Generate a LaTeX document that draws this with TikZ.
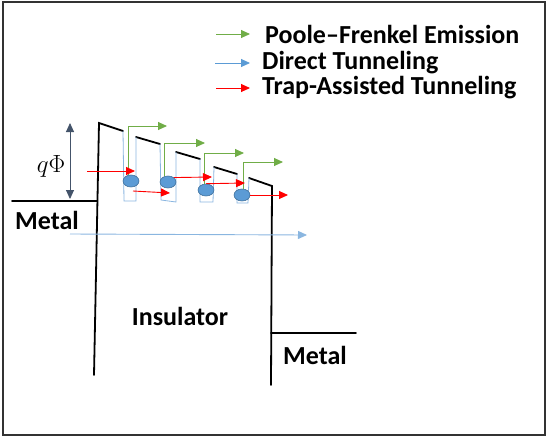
\documentclass[tikz,border=0pt]{standalone}
\usepackage{fontspec}
\setmainfont{Carlito}
\usetikzlibrary{arrows.meta, positioning, shapes.geometric}

\definecolor{pfgreen}{HTML}{70AD47}
\definecolor{dtblue}{HTML}{5B9BD5}
\definecolor{wellblue}{HTML}{8AB6E0}
\definecolor{trapedge}{HTML}{41719C}
\definecolor{slate}{HTML}{44546A}

\begin{document}
\begin{tikzpicture}[x=1pt, y=-1pt,
  tip/.style={-{Triangle[length=9pt, width=8pt]}},
  band/.style={line width=1.8pt, line cap=round},
  well/.style={draw=wellblue, line width=0.8pt},
  pf/.style={tip, pfgreen, line width=0.9pt},
  dt/.style={tip, dtblue, line width=0.9pt},
  tat/.style={tip, red, line width=0.9pt},
  trap/.style={ellipse, draw=trapedge, fill=dtblue, line width=0.6pt,
    minimum width=16pt, minimum height=12pt, inner sep=0pt},
  label/.style={font=\bfseries\fontsize{26}{28}\selectfont, inner sep=0pt}]
  \useasboundingbox (0,0) rectangle (550,440);
  % Frame
  \draw[line width=1.3pt, black!80] (3,2) rectangle (545,435);

  % Legend
  \coordinate (lg1) at (250,34);
  \coordinate (lg2) at (250,63);
  \coordinate (lg3) at (250,88);
  \draw[pf] (216,34) -- (lg1);
  \draw[dt] (215,63) -- (lg2);
  \draw[tat] (216,88) -- (lg3);
  \node[label, anchor=west, right=15pt of lg1] (pfl) {Poole--Frenkel Emission};
  \node[label, anchor=west, right=12pt of lg2] (dtl) {Direct Tunneling};
  \node[label, anchor=west, right=12pt of lg3] (tatl) {Trap-Assisted Tunneling};

  % Left metal and barrier
  \draw[band] (12,201) -- (97,201);
  \draw[band] (94,375) -- (99,123) -- (123,131);
  \draw[band] (136,137) -- (160,144);
  \draw[band] (176,152) -- (200,159);
  \draw[band] (214,167) -- (237,174);
  \draw[band] (249,178) -- (272,186) -- (271,385);
  % Right metal
  \draw[band] (271,333) -- (356,333);

  % Trap wells
  \draw[well] (123,131) -- (124,201) -- (136,201) -- (136,137);
  \draw[well] (160,144) -- (161,200) -- (176,202) -- (176,152);
  \draw[well] (200,159) -- (200,202) -- (213,202) -- (214,167);
  \draw[well] (237,174) -- (237,203) -- (248,203) -- (249,178);

  % Barrier height
  \draw[{Triangle[length=9pt, width=8pt]}-{Triangle[length=9pt, width=8pt]},
    slate, line width=0.9pt] (70,123) -- (70,199);
  \node[inner sep=0pt] (phi) at (51,166) {\fontsize{30}{32}\selectfont$q\Phi$};

  % Traps
  \node[trap] (t1) at (131,181) {};
  \node[trap] (t2) at (168,182) {};
  \node[trap] (t3) at (206,190) {};
  \node[trap] (t4) at (242,195) {};

  % Poole-Frenkel emission
  \coordinate (g1) at (167,126);
  \coordinate (g2) at (205,143);
  \coordinate (g3) at (244,153);
  \coordinate (g4) at (283,162);
  \draw[pf] ([xshift=-3pt]t1.north) |- (g1);
  \draw[pf] ([xshift=-4pt]t2.north) |- (g2);
  \draw[pf] ([xshift=-2pt]t3.north) |- (g3);
  \draw[pf] ([xshift=1pt]t4.north) |- (g4);

  % Trap-assisted tunneling
  \coordinate (r1) at (87,171);
  \coordinate (r2) at (133,191);
  \coordinate (r5) at (288,195);
  \draw[tat] (r1) -- (135,171);
  \draw[tat] (r2) -- (170,193);
  \draw[tat] (t2.north east) -- (212,177);
  \draw[tat] (t3.north) -- (245,183);
  \draw[tat] (t4.east) -- (r5);

  % Direct tunneling
  \coordinate (d0) at (70,234);
  \coordinate (d1) at (307,235);
  \draw[dt, draw=wellblue] (d0) -- (d1);

  % Labels
  \node[label] (ml) at (47,220) {Metal};
  \node[label] (ins) at (180,316) {Insulator};
  \node[label] (mr) at (315,355) {Metal};
\end{tikzpicture}
\end{document}
